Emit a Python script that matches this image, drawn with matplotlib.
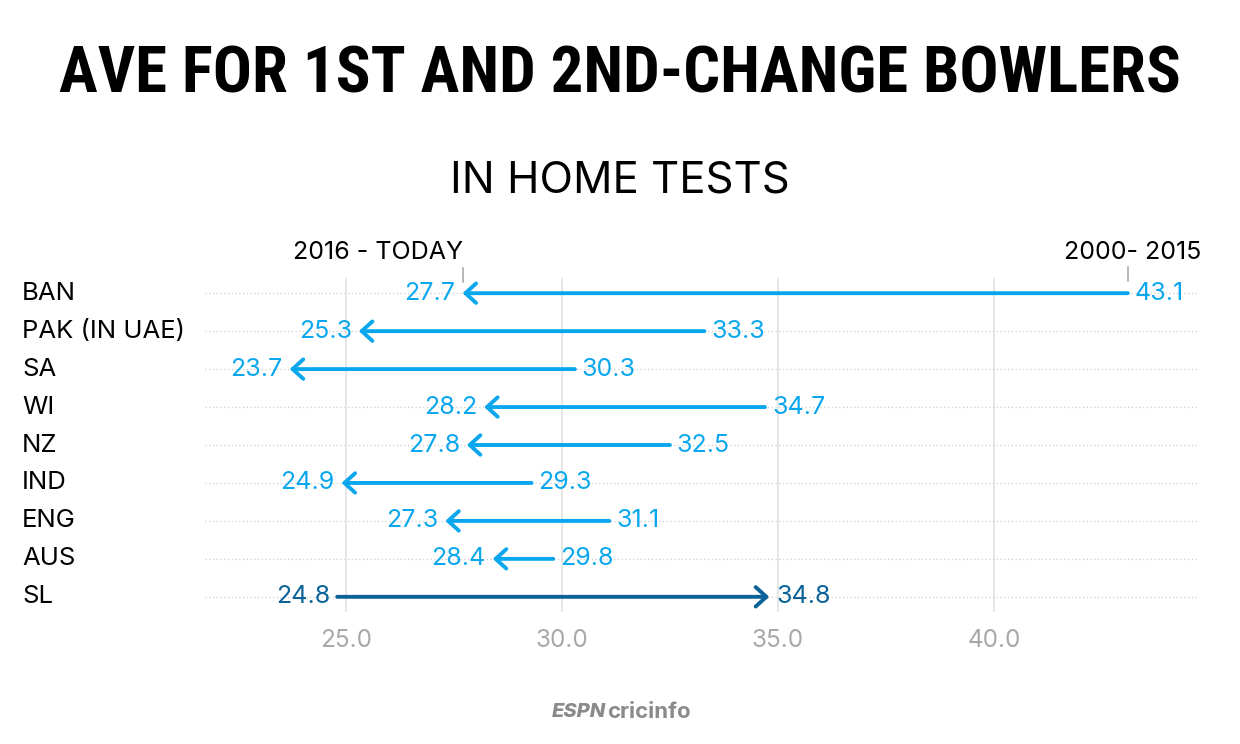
import matplotlib
matplotlib.use('Agg')
import matplotlib.pyplot as plt
from matplotlib import font_manager
from matplotlib.transforms import blended_transform_factory

plt.rcParams['font.family'] = ['Inter', 'DejaVu Sans']

# data
countries = ['BAN', 'PAK (IN UAE)', 'SA', 'WI', 'NZ', 'IND', 'ENG', 'AUS', 'SL']
ave_2000_2015 = [43.1, 33.3, 30.3, 34.7, 32.5, 29.3, 31.1, 29.8, 24.8]
ave_2016_today = [27.7, 25.3, 23.7, 28.2, 27.8, 24.9, 27.3, 28.4, 34.8]
xticks = [25.0, 30.0, 35.0, 40.0]

light = '#0ba7ee'
dark = '#0a6299'
grid_c = '#e2e2e2'

fig = plt.figure(figsize=(12.4, 7.44), dpi=100)
W, H = 1240, 744
ax = fig.add_axes([205 / W, 1 - 612 / H, 992 / W, 334 / H])
ax.set_xlim(21.74, 44.7)
ax.set_ylim(len(countries) - 0.6, -0.4)

for s in ax.spines.values():
    s.set_visible(False)
ax.set_yticks([])
ax.set_xticks(xticks)
ax.set_xticklabels(['%.1f' % v for v in xticks], fontsize=17.5, color='#a8a8a8')
ax.tick_params(axis='x', length=0, pad=12)
for v in xticks:
    ax.axvline(v, color=grid_c, lw=1.2, zorder=0)

label_tr = blended_transform_factory(fig.transFigure, ax.transData)
for i, c in enumerate(countries):
    ax.plot([21.74, 44.7], [i, i], ls=(0, (1, 2)), color='#cfcfcf', lw=0.9, zorder=1)
    ax.text(22 / W, i, c, transform=label_tr, ha='left', va='center', fontsize=18.5, color='black')

    old, new = ave_2000_2015[i], ave_2016_today[i]
    col = dark if new > old else light
    ax.annotate('', xy=(new, i), xytext=(old, i),
                arrowprops=dict(arrowstyle='->,head_length=0.55,head_width=0.5', color=col,
                                lw=2.8, shrinkA=0, shrinkB=0, mutation_scale=14),
                zorder=3)
    lo, hi = min(old, new), max(old, new)
    ax.annotate('%.1f' % lo, xy=(lo, i), xytext=(-5, 0), textcoords='offset points',
                ha='right', va='center', fontsize=18, color=col)
    ax.annotate('%.1f' % hi, xy=(hi, i), xytext=(5, 0), textcoords='offset points',
                ha='left', va='center', fontsize=18, color=col)

# series headers
ax.plot([27.7, 27.7], [-0.29, -0.66], color='#aaaaaa', lw=1.2, clip_on=False)
ax.plot([43.1, 43.1], [-0.32, -0.69], color='#aaaaaa', lw=1.2, clip_on=False)
ax.text(27.72, -1.08, '2016 - TODAY', ha='right', va='center', fontsize=18, color='black')
ax.text(43.2, -1.08, '2000- 2015', ha='center', va='center', fontsize=18, color='black')

# title: pick a condensed heavy face if one is there, then fit to width
names = {f.name for f in font_manager.fontManager.ttflist}
title_fam = 'Inter'
for cand in ['Roboto Condensed', 'Liberation Sans Narrow', 'DejaVu Sans Condensed', 'Inter']:
    if cand in names:
        title_fam = cand
        break
title = fig.text(0.5, 1 - 75 / H, 'AVE FOR 1ST AND 2ND-CHANGE BOWLERS', ha='center',
                 va='center', fontsize=60, fontweight='black', family=[title_fam, 'DejaVu Sans'],
                 color='black')
renderer = fig.canvas.get_renderer()
tw = title.get_window_extent(renderer).width
title.set_fontsize(60 * 1122 / tw)

fig.text(0.5, 1 - 181 / H, 'IN HOME TESTS', ha='center', va='center', fontsize=31.5, color='black')

fig.text(606 / W, 1 - 712 / H, 'ESPN', ha='right', va='center', fontsize=14.5, fontweight='heavy',
         style='italic', color='#8a8a8a')
fig.text(607 / W, 1 - 712 / H, 'cricinfo', ha='left', va='center', fontsize=16, fontweight='bold',
         color='#8a8a8a')

fig.savefig('out.png', dpi=100)
